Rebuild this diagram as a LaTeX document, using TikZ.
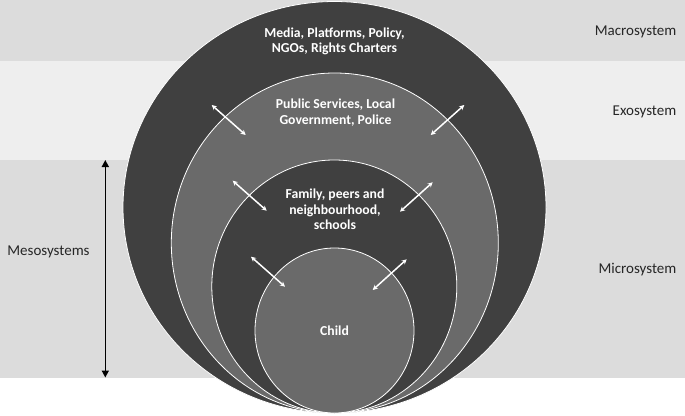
\documentclass[tikz,border=0pt]{standalone}
\usepackage{fontspec}
\setmainfont{Carlito}
\usetikzlibrary{arrows.meta}
\definecolor{bandA}{HTML}{DCDCDC}
\definecolor{bandB}{HTML}{EEEEEE}
\definecolor{ringdark}{HTML}{404040}
\definecolor{ringmid}{HTML}{6A6A6A}
\definecolor{labeltext}{HTML}{262626}
\tikzset{
  ring/.style={draw=white,line width=0.8pt},
  ringtext/.style={text=white,font=\fontsize{13.7}{15.3}\selectfont\bfseries,align=center,inner sep=0pt},
  syslabel/.style={text=labeltext,font=\fontsize{15}{18}\selectfont,inner sep=0pt},
  twoway/.style={white,line width=1.5pt,{Stealth[length=5pt,width=5pt]}-{Stealth[length=5pt,width=5pt]}},
  mesoarrow/.style={black,line width=1.6pt,{Triangle[length=7pt,width=7pt]}-{Triangle[length=7pt,width=7pt]}}
}
\begin{document}
\begin{tikzpicture}[x=1pt,y=-1pt]
\useasboundingbox (0,0) rectangle (685,415);
\fill[white] (0,0) rectangle (685,415);
% bands
\fill[bandA] (0,0) rectangle (685,61);
\fill[bandB] (0,61) rectangle (685,159.5);
\fill[bandA] (0,159.5) rectangle (685,378);
% rings
\begin{scope}
\clip (0,0) rectangle (685,415);
\filldraw[ring,fill=ringdark] (334.5,207.3) ellipse [x radius=211.5,y radius=205.8];
\filldraw[ring,fill=ringmid] (334.8,243) ellipse [x radius=163.5,y radius=170];
\filldraw[ring,fill=ringdark] (334.3,286.5) ellipse [x radius=122.5,y radius=126.5];
\filldraw[ring,fill=ringmid] (334.5,330.5) ellipse [x radius=79.5,y radius=82.5];
\end{scope}
% ring texts
\node[ringtext] (macro) at (334.5,41.7) {Media, Platforms, Policy,\\NGOs, Rights Charters};
\node[ringtext] (exo) at (335.5,112.5) {Public Services, Local\\Government, Police};
\node[ringtext] (micro) at (335,209.5) {Family, peers and\\neighbourhood,\\schools};
\node[ringtext] (child) at (334.5,330.7) {Child};
% two-way arrows
\coordinate (a1s) at (211.7,105);
\coordinate (a1e) at (245.7,135);
\coordinate (b1s) at (464.3,105);
\coordinate (b1e) at (430.7,135);
\coordinate (a2s) at (232.7,180.7);
\coordinate (a2e) at (266.7,210.7);
\coordinate (b2s) at (432.7,182.3);
\coordinate (b2e) at (400,211.7);
\coordinate (a3s) at (251,256.7);
\coordinate (a3e) at (285,286.7);
\coordinate (b3s) at (406.7,259.3);
\coordinate (b3e) at (372.7,290);
\draw[twoway] (a1s) -- (a1e);
\draw[twoway] (b1s) -- (b1e);
\draw[twoway] (a2s) -- (a2e);
\draw[twoway] (b2s) -- (b2e);
\draw[twoway] (a3s) -- (a3e);
\draw[twoway] (b3s) -- (b3e);
% system labels
\node[syslabel,anchor=east] (lmacro) at (676.5,32) {Macrosystem};
\node[syslabel,anchor=east] (lexo) at (676.5,112) {Exosystem};
\node[syslabel,anchor=east] (lmicro) at (676.5,269.5) {Microsystem};
\node[syslabel] (lmeso) at (48.5,252) {Mesosystems};
% mesosystem arrow
\coordinate (mtop) at (105.3,160);
\coordinate (mbot) at (105.3,377.5);
\draw[mesoarrow] (mtop) -- (mbot);
\end{tikzpicture}
\end{document}
